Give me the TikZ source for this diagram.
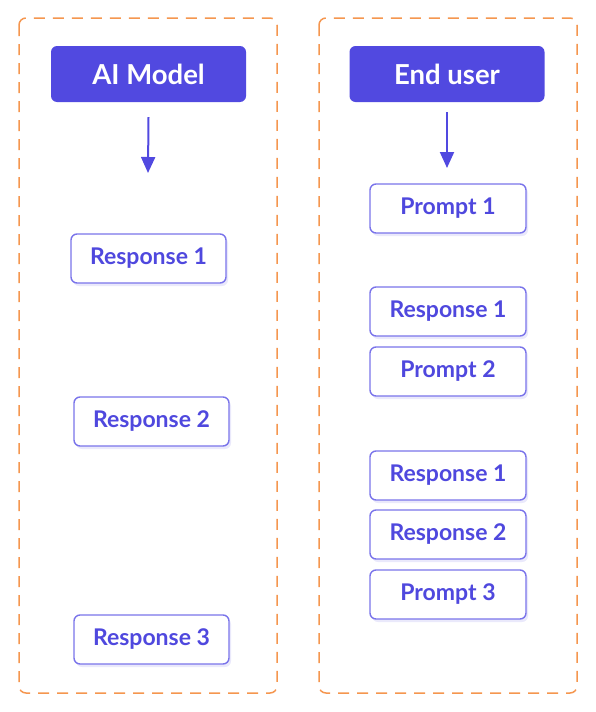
\documentclass[tikz,border=0pt]{standalone}
\usepackage{fontspec}
\setmainfont{Lato}
\usetikzlibrary{arrows.meta,shadows}
\definecolor{indigo}{HTML}{5149E0}
\definecolor{indtext}{HTML}{4F48DE}
\definecolor{indborder}{HTML}{7A74EA}
\definecolor{dashorange}{HTML}{F5964F}
\begin{document}
\begin{tikzpicture}[x=1pt,y=-1pt,
  panel/.style={draw=dashorange, line width=1.5pt, dash pattern=on 11pt off 8pt, rounded corners=7pt},
  header/.style={fill=indigo, rounded corners=6pt, minimum width=195pt, minimum height=56pt,
    text=white, font=\fontsize{27.5}{32}\selectfont\bfseries, inner sep=0pt},
  msgbox/.style={draw=indborder, line width=1.4pt, fill=white, rounded corners=6pt,
    minimum width=155pt, minimum height=49pt, inner sep=0pt,
    text=indtext, font=\fontsize{23}{27}\selectfont\bfseries,
    drop shadow={shadow xshift=2pt, shadow yshift=-3pt, fill=indigo, opacity=0.12}},
  arr/.style={draw=indigo, line width=2pt, -{Triangle[length=16pt,width=14pt]}}
]
\useasboundingbox (0,0) rectangle (596,712);
\draw[panel] (19,18) rectangle (277,693);
\draw[panel] (319,18) rectangle (577,693);

\node[header] (aim) at (148.5,74) {AI Model};
\node[header] (eu) at (447,74) {End user};

\coordinate (aimend) at (148,173);
\coordinate (euend) at (447,168);
\draw[arr] ([yshift=-15pt]aim.south) -- (aimend);
\draw[arr] ([yshift=-10pt]eu.south) -- (euend);

\node[msgbox] (lr1) at (148.5,258.5) {Response 1};
\node[msgbox] (lr2) at (151.5,421.5) {Response 2};
\node[msgbox] (lr3) at (151.5,639.5) {Response 3};

\node[msgbox, minimum width=156pt] (rp1) at (448,208.5) {Prompt 1};
\node[msgbox, minimum width=156pt] (rr1a) at (448,311.5) {Response 1};
\node[msgbox, minimum width=156pt] (rp2) at (448,371.5) {Prompt 2};
\node[msgbox, minimum width=156pt] (rr1b) at (448,475.5) {Response 1};
\node[msgbox, minimum width=156pt] (rr2) at (448,534.5) {Response 2};
\node[msgbox, minimum width=156pt] (rp3) at (448,594.5) {Prompt 3};
\end{tikzpicture}
\end{document}
